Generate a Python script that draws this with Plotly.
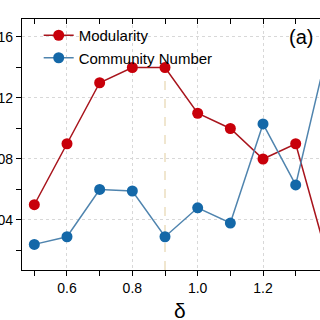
import plotly.graph_objects as go

delta = [0.5, 0.6, 0.7, 0.8, 0.9, 1.0, 1.1, 1.2, 1.3, 1.4]
modularity = [0.050, 0.090, 0.130, 0.140, 0.140, 0.110, 0.100, 0.080, 0.090, 0.013]
community = [0.024, 0.029, 0.060, 0.059, 0.029, 0.048, 0.038, 0.103, 0.063, 0.154]
x_ticks = [0.6, 0.8, 1.0, 1.2]
y_ticks = [0.04, 0.08, 0.12, 0.16]

red_m, red_l = "#c8000a", "#a8141c"
blue_m, blue_l = "#1468a8", "#4f84ae"
font = "Liberation Sans, Arial, sans-serif"

fig = go.Figure()
fig.add_trace(go.Scatter(x=delta, y=modularity, mode="lines+markers", name="Modularity",
                         line=dict(color=red_l, width=1.5),
                         marker=dict(color=red_m, size=11, line=dict(width=0))))
fig.add_trace(go.Scatter(x=delta, y=community, mode="lines+markers", name="Community Number",
                         line=dict(color=blue_l, width=1.5),
                         marker=dict(color=blue_m, size=11, line=dict(width=0))))
# invisible trace to create top axis
fig.add_trace(go.Scatter(x=[delta[0]], y=[modularity[0]], xaxis="x2", showlegend=False,
                         mode="markers", marker=dict(opacity=0), hoverinfo="skip"))

fig.add_shape(type="line", x0=0.9, x1=0.9, y0=0.0072, y1=0.14, xref="x", yref="y",
              line=dict(color="#e6d6b0", width=1.2, dash="dash"), layer="below")

xr = [0.4623, 1.3744]
yr = [0.0072, 0.1718]
fig.update_layout(
    width=320, height=320,
    margin=dict(l=22, r=0, t=19, b=50),
    paper_bgcolor="white", plot_bgcolor="white",
    font=dict(family=font, size=14, color="black"),
    showlegend=True,
    legend=dict(x=0.056, y=1.0, xanchor="left", yanchor="top", bgcolor="rgba(0,0,0,0)",
                font=dict(size=15), tracegroupgap=0, itemwidth=30),
    xaxis=dict(range=xr, tickvals=x_ticks, ticktext=[f"{v:.1f}" for v in x_ticks],
               ticks="outside", ticklen=5, tickcolor="black", showline=True, linecolor="black",
               linewidth=1.2, showgrid=True, gridcolor="#d8d8d8", griddash="dot", gridwidth=1,
               zeroline=False, minor=dict(tickvals=[0.5, 0.7, 0.9, 1.1, 1.3], ticks="outside",
                                          ticklen=5, tickcolor="black", showgrid=False),
               automargin=False),
    xaxis2=dict(range=xr, overlaying="x", side="top", showline=True, linecolor="black",
                linewidth=1.2, ticks="inside", ticklen=5, tickcolor="black",
                tickvals=[0.5, 0.6, 0.7, 0.8, 0.9, 1.0, 1.1, 1.2, 1.3], showticklabels=False,
                showgrid=False, zeroline=False, automargin=False),
    yaxis=dict(range=yr, tickvals=y_ticks, ticktext=[f"{v:.2f}" for v in y_ticks],
               ticks="outside", ticklen=5, tickcolor="black", showline=True, linecolor="black",
               linewidth=1.2, showgrid=True, gridcolor="#d8d8d8", griddash="dot", gridwidth=1,
               zeroline=False, minor=dict(tickvals=[0.02, 0.06, 0.10, 0.14], ticks="outside",
                                          ticklen=5, tickcolor="black", showgrid=False),
               automargin=False),
)
fig.add_annotation(text="δ", x=(180 - 22) / 298, y=-0.16, xref="paper", yref="paper",
                   showarrow=False, font=dict(size=21, family=font), xanchor="center", yanchor="middle")
fig.add_annotation(text="(a)", x=(301 - 22) / 298, y=1 - (37 - 19) / 251, xref="paper", yref="paper",
                   showarrow=False, font=dict(size=20, family=font), xanchor="center", yanchor="middle")

fig.write_html("out.html")
